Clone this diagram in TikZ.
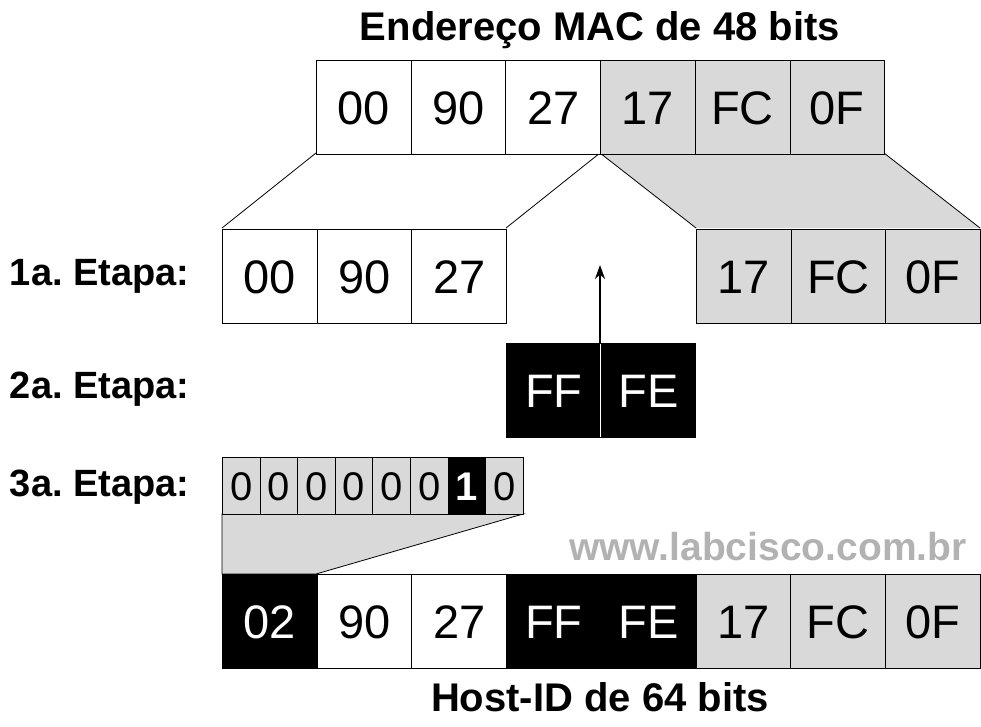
\documentclass[tikz,border=0pt]{standalone}
\usepackage{fontspec}
\setmainfont{Liberation Sans}
\usetikzlibrary{arrows.meta}
\frenchspacing
\begin{document}
\begin{tikzpicture}[x=1pt,y=-1pt,
  cell/.style={draw,line width=0.8pt,minimum width=94.7pt,minimum height=94pt,inner sep=0pt,anchor=north west,font=\fontsize{47}{47}\selectfont,text height=34pt,text depth=0pt},
  wcell/.style={cell,fill=white},
  gcell/.style={cell,fill=black!15},
  bcell/.style={cell,fill=black,text=white},
  bit/.style={draw,line width=0.8pt,fill=black!15,minimum width=37.6pt,minimum height=57pt,inner sep=0pt,anchor=north west,font=\fontsize{40}{40}\selectfont,text height=29pt,text depth=0pt},
  lab/.style={font=\bfseries\fontsize{38}{38}\selectfont,anchor=east},
  ttl/.style={font=\bfseries\fontsize{40}{40}\selectfont}]
\useasboundingbox (0,0) rectangle (981,726);
% trapezoids
\fill[black!15] (600,153) -- (884,153) -- (980,228) -- (696,228) -- cycle;
\draw[line width=0.8pt] (316,153) -- (222,228);
\draw[line width=0.8pt] (600,153) -- (506,228);
\draw[line width=0.8pt] (600,153) -- (696,228);
\draw[line width=0.8pt] (884,153) -- (980,228);
\filldraw[fill=black!15,line width=0.8pt] (222,514) -- (523,514) -- (316,574) -- (222,574) -- cycle;
% top row
\node[ttl] (t1) at (600,30) {Endereço MAC de 48 bits};
\foreach \t [count=\i] in {00,90,27}{\node[wcell] (m\i) at ({316+94.7*(\i-1)},60) {\t};}
\foreach \t [count=\i from 4] in {17,FC,0F}{\node[gcell] (m\i) at ({316+94.7*(\i-1)},60) {\t};}
% row 1
\node[lab] (l1) at (193,276) {1a. Etapa:};
\foreach \t [count=\i] in {00,90,27}{\node[wcell] (a\i) at ({222+94.7*(\i-1)},229) {\t};}
\foreach \t [count=\i] in {17,FC,0F}{\node[gcell] (b\i) at ({696+94.7*(\i-1)},229) {\t};}
% row 2
\node[lab] (l2) at (193,389) {2a. Etapa:};
\node[bcell] (f1) at (506,343) {FF};
\node[bcell] (f2) at (600.7,343) {FE};
\draw[white,line width=1pt] (600.7,343.5) -- (600.7,436.5);
\coordinate (tip) at (600,265);
\draw[-{Stealth[length=14pt,width=10pt]},line width=1.8pt] (600,343) -- (tip);
% row 3
\node[lab] (l3) at (193,487) {3a. Etapa:};
\foreach \i in {1,...,6,8}{\node[bit] (c\i) at ({222+37.6*(\i-1)},457) {0};}
\node[bit,fill=black,text=white,font=\bfseries\fontsize{40}{40}\selectfont] (c7) at ({222+37.6*6},457) {1};
\node[font=\bfseries\fontsize{39}{39}\selectfont,text=black!30,anchor=east] (w) at (970,547) {www.labcisco.com.br};
% bottom row
\node[bcell] (h1) at (222,574) {02};
\node[wcell] (h2) at (316.7,574) {90};
\node[wcell] (h3) at (411.4,574) {27};
\node[bcell] (h4) at (506.1,574) {FF};
\node[bcell] (h5) at (600.8,574) {FE};
\node[gcell] (h6) at (695.5,574) {17};
\node[gcell] (h7) at (790.2,574) {FC};
\node[gcell] (h8) at (884.9,574) {0F};
\node[ttl] (t2) at (600,697) {Host-ID de 64 bits};
\end{tikzpicture}
\end{document}
